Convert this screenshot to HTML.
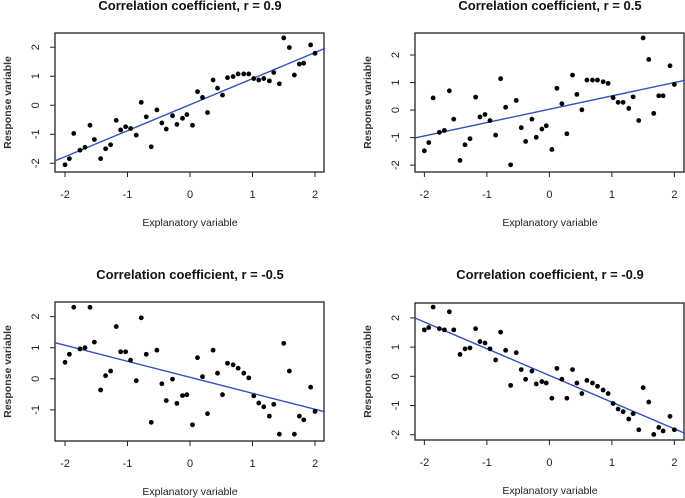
<!DOCTYPE html>
<html><head><meta charset="utf-8"><style>
body{margin:0;background:#fff}
svg{display:block;font-family:"Liberation Sans",sans-serif}
</style></head><body>
<svg id="c" width="685" height="498"></svg>
<script>
const xVals=[-2.0,-1.93,-1.86,-1.76,-1.68,-1.6,-1.53,-1.43,-1.35,-1.27,-1.18,-1.11,-1.03,-0.95,-0.86,-0.78,-0.7,-0.62,-0.53,-0.45,-0.38,-0.28,-0.21,-0.12,-0.05,0.04,0.12,0.2,0.28,0.37,0.44,0.52,0.6,0.69,0.77,0.86,0.94,1.02,1.1,1.18,1.27,1.34,1.43,1.5,1.59,1.67,1.75,1.82,1.93,2.0];
const y09=[-2.05,-1.84,-0.97,-1.55,-1.45,-0.69,-1.18,-1.84,-1.5,-1.36,-0.52,-0.85,-0.74,-0.8,-1.03,0.1,-0.4,-1.43,-0.16,-0.61,-0.82,-0.36,-0.66,-0.45,-0.32,-0.69,0.47,0.27,-0.25,0.87,0.59,0.35,0.95,0.99,1.08,1.08,1.08,0.92,0.87,0.92,0.84,1.13,0.74,2.32,1.99,1.04,1.42,1.45,2.08,1.79];
const y05=[-1.48,-1.18,0.44,-0.81,-0.74,0.7,-0.33,-1.83,-1.26,-1.04,0.47,-0.25,-0.16,-0.38,-0.91,1.14,0.1,-1.99,0.35,-0.64,-1.14,-0.33,-0.99,-0.69,-0.57,-1.43,0.79,0.23,-0.86,1.27,0.57,0.01,1.09,1.09,1.09,1.03,0.97,0.45,0.28,0.28,0.06,0.48,-0.38,2.62,1.84,-0.12,0.52,0.52,1.61,0.93];
const yn05=[0.53,0.79,2.3,0.96,1.0,2.3,1.18,-0.36,0.1,0.25,1.68,0.87,0.87,0.6,-0.06,1.96,0.79,-1.4,0.92,-0.16,-0.7,-0.01,-0.79,-0.54,-0.51,-1.48,0.68,0.07,-1.12,0.92,0.18,-0.51,0.5,0.45,0.34,0.18,0.03,-0.55,-0.78,-0.9,-1.2,-0.82,-1.78,1.14,0.25,-1.78,-1.2,-1.32,-0.27,-1.05];
const yn09=[1.59,1.67,2.37,1.63,1.59,2.21,1.59,0.75,0.94,0.97,1.63,1.19,1.14,0.94,0.56,1.51,0.89,-0.31,0.81,0.23,-0.1,0.18,-0.26,-0.18,-0.23,-0.75,0.27,-0.1,-0.75,0.23,-0.23,-0.59,-0.14,-0.23,-0.34,-0.47,-0.59,-0.93,-1.12,-1.21,-1.46,-1.28,-1.83,-0.39,-0.88,-1.99,-1.75,-1.87,-1.37,-1.83];
const titles=["Correlation coefficient, r = 0.9","Correlation coefficient, r = 0.5","Correlation coefficient, r = -0.5","Correlation coefficient, r = -0.9"];
const xTicks=[-2,-1,0,1,2];
const yTicks09=[-2,-1,0,1,2];
const yTicks05=[-2,-1,0,1,2];
const yTicksN05=[-1,0,1,2];
const yTicksN09=[-2,-1,0,1,2];
const NS="http://www.w3.org/2000/svg";
const svg=document.getElementById('c');
function mk(t,a,p){const e=document.createElementNS(NS,t);for(const k in a)e.setAttribute(k,a[k]);(p||svg).appendChild(e);return e;}
const panels=[
 {ys:y09,yt:yTicks09,L:55,R:325,T:33,B:172,xmin:-2.16,xmax:2.16,ymin:-2.3,ymax:2.49,ty:10,name:'panel-r-0-9'},
 {ys:y05,yt:yTicks05,L:415,R:685,T:33,B:172,xmin:-2.15,xmax:2.17,ymin:-2.25,ymax:2.8,ty:10,name:'panel-r-0-5'},
 {ys:yn05,yt:yTicksN05,L:55,R:325,T:302,B:441,xmin:-2.16,xmax:2.16,ymin:-2.0,ymax:2.47,ty:279,name:'panel-r-neg-0-5'},
 {ys:yn09,yt:yTicksN09,L:415,R:685,T:303,B:440,xmin:-2.15,xmax:2.17,ymin:-2.18,ymax:2.51,ty:279,name:'panel-r-neg-0-9'}
];
panels.forEach((p,i)=>{
 const g=mk('g',{});
 
 
 const sx=v=>p.L+(v-p.xmin)/(p.xmax-p.xmin)*(p.R-p.L);
 const sy=v=>p.B-(v-p.ymin)/(p.ymax-p.ymin)*(p.B-p.T);
 const cx=(p.L+p.R)/2;
 const t=mk('text',{x:cx,y:p.ty,'text-anchor':'middle','font-size':13,'font-weight':'bold',fill:'#111'},g);t.textContent=titles[i];
 
 const box=mk('rect',{x:p.L,y:p.T,width:p.R-p.L-1,height:p.B-p.T,fill:'none',stroke:'#222','stroke-width':1.3},g);
 
 xTicks.forEach(v=>{const x=sx(v);mk('line',{x1:x,x2:x,y1:p.B,y2:p.B+5,stroke:'#222'},g);
  const tl=mk('text',{x:x,y:p.B+26,'text-anchor':'middle','font-size':11,fill:'#222'},g);tl.textContent=v;
  });
 p.yt.forEach(v=>{const y=sy(v);mk('line',{x1:p.L-5,x2:p.L,y1:y,y2:y,stroke:'#222'},g);
  const tl=mk('text',{x:p.L-16,y:y,'text-anchor':'middle','font-size':11,fill:'#222',transform:`rotate(-90 ${p.L-16} ${y})`},g);tl.textContent=v;
  });
 const xl=mk('text',{x:cx,y:p.B+54,'text-anchor':'middle','font-size':10.5,fill:'#222'},g);xl.textContent='Explanatory variable';
 
 const yx=p.L-44,yy=(p.T+p.B)/2;
 const yl=mk('text',{x:yx,y:yy,'text-anchor':'middle','font-size':10.5,'font-weight':'bold',fill:'#333',transform:`rotate(-90 ${yx} ${yy})`},g);yl.textContent='Response variable';
 
 // regression line
 const n=xVals.length;let mx=0,my=0;for(let k=0;k<n;k++){mx+=xVals[k];my+=p.ys[k];}mx/=n;my/=n;
 let sxy=0,sxx=0;for(let k=0;k<n;k++){sxy+=(xVals[k]-mx)*(p.ys[k]-my);sxx+=(xVals[k]-mx)**2;}
 const b=sxy/sxx,a=my-b*mx;
 const ln=mk('line',{x1:sx(p.xmin),y1:sy(a+b*p.xmin),x2:sx(p.xmax),y2:sy(a+b*p.xmax),stroke:'#3050c0','stroke-width':1.4},g);
 
 for(let k=0;k<n;k++){const c=mk('circle',{cx:sx(xVals[k]),cy:sy(p.ys[k]),r:2.4,fill:'#000'},g);
  }
});
</script>
</body></html>
